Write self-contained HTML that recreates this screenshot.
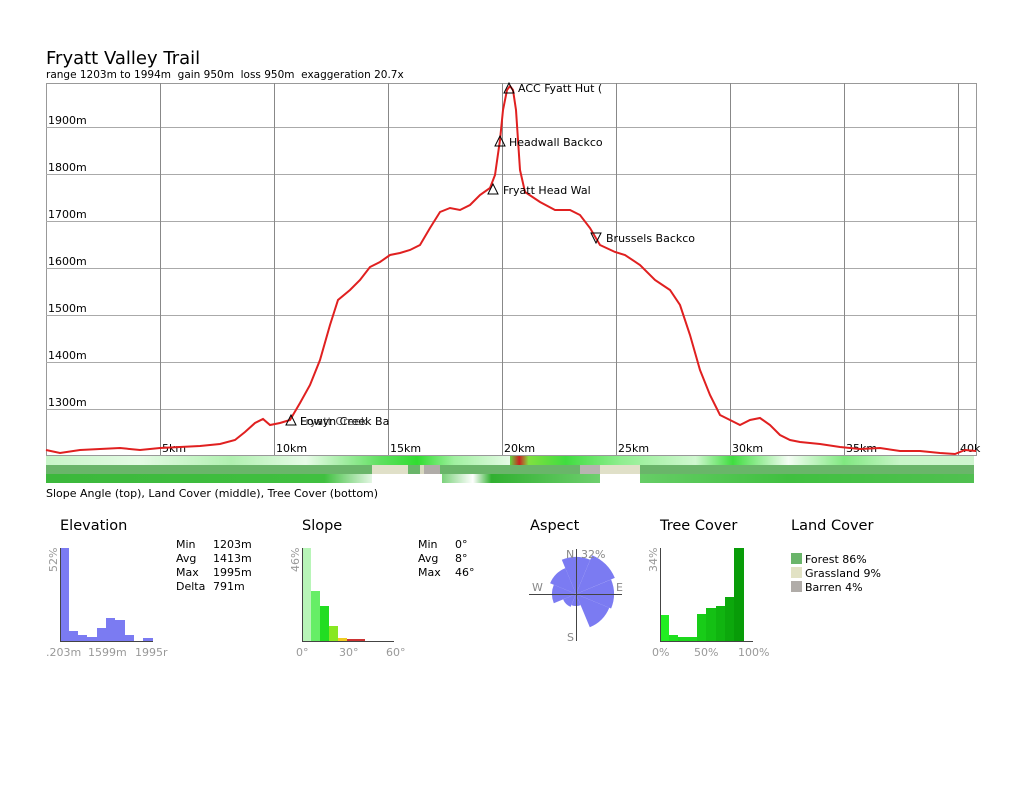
<!DOCTYPE html>
<html><head><meta charset="utf-8"><style>
body{margin:0;background:#fff;width:1024px;height:792px;overflow:hidden;font-family:"DejaVu Sans","Liberation Sans",sans-serif}
svg text{font-family:"DejaVu Sans","Liberation Sans",sans-serif}
</style></head><body>
<svg width="1024" height="792" xmlns="http://www.w3.org/2000/svg">
<defs>
<linearGradient id="slope" x1="0" x2="1">
<stop offset="0" stop-color="#c8f5c8"/><stop offset="0.1" stop-color="#e4fae4"/><stop offset="0.2" stop-color="#b0f0b0"/><stop offset="0.28" stop-color="#e8fbe8"/><stop offset="0.36" stop-color="#60e060"/><stop offset="0.4" stop-color="#30dd30"/><stop offset="0.44" stop-color="#a0f0a0"/><stop offset="0.5" stop-color="#e6fae6"/><stop offset="0.488" stop-color="#40dd30"/><stop offset="0.49" stop-color="#c0e020"/><stop offset="0.493" stop-color="#cc2020"/><stop offset="0.5" stop-color="#60dd40"/><stop offset="0.51" stop-color="#cc2020"/><stop offset="0.52" stop-color="#80e040"/><stop offset="0.56" stop-color="#40dd40"/><stop offset="0.62" stop-color="#90ee90"/><stop offset="0.7" stop-color="#d0f7d0"/><stop offset="0.74" stop-color="#40dd40"/><stop offset="0.8" stop-color="#f4fdf4"/><stop offset="0.86" stop-color="#80e880"/><stop offset="0.92" stop-color="#c8f5c8"/><stop offset="1" stop-color="#d0f5d0"/>
</linearGradient>
<linearGradient id="tree" x1="0" x2="1">
<stop offset="0" stop-color="#3cb83c"/><stop offset="0.3" stop-color="#40c040"/><stop offset="0.36" stop-color="#fff"/><stop offset="0.42" stop-color="#60c860"/><stop offset="0.46" stop-color="#fff"/><stop offset="0.48" stop-color="#30b030"/><stop offset="0.6" stop-color="#70d070"/><stop offset="0.8" stop-color="#40c040"/><stop offset="1" stop-color="#50c050"/>
</linearGradient>
</defs>
<text x="46" y="64" font-size="18">Fryatt Valley Trail</text>
<text x="46" y="78" font-size="10.5">range 1203m to 1994m&#160; gain 950m&#160; loss 950m&#160; exaggeration 20.7x</text>
<rect x="46.5" y="83.5" width="930" height="372" fill="none" stroke="#999"/>
<g stroke="#aaa" stroke-width="1">
<line x1="46" x2="976" y1="127.5" y2="127.5"/><line x1="46" x2="976" y1="174.5" y2="174.5"/><line x1="46" x2="976" y1="221.5" y2="221.5"/><line x1="46" x2="976" y1="268.5" y2="268.5"/><line x1="46" x2="976" y1="315.5" y2="315.5"/><line x1="46" x2="976" y1="362.5" y2="362.5"/><line x1="46" x2="976" y1="409.5" y2="409.5"/>
</g>
<g stroke="#888" stroke-width="1">
<line x1="160.5" x2="160.5" y1="83" y2="455"/><line x1="274.5" x2="274.5" y1="83" y2="455"/><line x1="388.5" x2="388.5" y1="83" y2="455"/><line x1="502.5" x2="502.5" y1="83" y2="455"/><line x1="616.5" x2="616.5" y1="83" y2="455"/><line x1="730.5" x2="730.5" y1="83" y2="455"/><line x1="844.5" x2="844.5" y1="83" y2="455"/><line x1="958.5" x2="958.5" y1="83" y2="455"/>
</g>
<g font-size="11" fill="#000">
<text x="48" y="124">1900m</text><text x="48" y="171">1800m</text><text x="48" y="218">1700m</text><text x="48" y="265">1600m</text><text x="48" y="312">1500m</text><text x="48" y="359">1400m</text><text x="48" y="406">1300m</text>
<text x="162" y="452">5km</text><text x="276" y="452">10km</text><text x="390" y="452">15km</text><text x="504" y="452">20km</text><text x="618" y="452">25km</text><text x="732" y="452">30km</text><text x="846" y="452">35km</text><text x="960" y="452">40k</text>
</g>
<polyline fill="none" stroke="#e02020" stroke-width="2" points="46,450 60,453 80,450 100,449 120,448 140,450 160,448 180,447 200,446 220,444 235,440 245,432 255,423 263,419 270,425 280,423 290,420 300,403 310,385 320,360 330,325 338,300 350,290 360,280 370,267 380,262 390,255 400,253 410,250 420,245 430,228 440,212 450,208 460,210 470,205 480,195 490,188 495,175 500,140 503,110 507,90 510,86 513,90 516,110 520,170 525,192 540,202 555,210 570,210 580,215 590,228 600,245 615,252 625,255 640,265 655,280 670,290 680,305 690,335 700,370 710,395 720,415 730,420 740,425 750,420 760,418 770,425 780,435 790,440 800,442 820,444 840,447 860,449 880,448 900,451 920,451 940,453 955,454 965,450 976,451"/>
<g fill="none" stroke="#000" stroke-width="1">
<path d="M291,415 L286,425 L296,425 Z"/><path d="M509,83 L504,93 L514,93 Z"/><path d="M500,136 L495,146 L505,146 Z"/><path d="M493,184 L488,194 L498,194 Z"/><path d="M596,243 L591,233 L601,233 Z"/>
</g>
<g font-size="11">
<text x="300" y="425">Eowyn Creek Ba</text><text x="300" y="425" opacity="0.7">Fryatt Creek</text><text x="518" y="92">ACC Fyatt Hut (</text><text x="509" y="146">Headwall Backco</text><text x="503" y="194">Fryatt Head Wal</text><text x="606" y="242">Brussels Backco</text>
</g>
<rect x="46" y="456" width="928" height="9" fill="url(#slope)"/>
<rect x="46" y="465" width="928" height="9" fill="#6ab56a"/>
<rect x="372" y="465" width="36" height="9" fill="#e0e0c8"/><rect x="420" y="465" width="20" height="9" fill="#d8d8c0"/><rect x="424" y="465" width="16" height="9" fill="#b0aca8"/><rect x="444" y="465" width="24" height="9" fill="#6ab56a"/><rect x="580" y="465" width="20" height="9" fill="#b8b4b0"/><rect x="600" y="465" width="40" height="9" fill="#e0e0c8"/>
<rect x="46" y="474" width="928" height="9" fill="url(#tree)"/>
<rect x="372" y="474" width="70" height="9" fill="#fff"/><rect x="600" y="474" width="40" height="9" fill="#fff"/>
<text x="46" y="497" font-size="11">Slope Angle (top), Land Cover (middle), Tree Cover (bottom)</text>
<g font-size="14.5"><text x="60" y="530">Elevation</text><text x="302" y="530">Slope</text><text x="530" y="530">Aspect</text><text x="660" y="530">Tree Cover</text><text x="791" y="530">Land Cover</text></g>
<g fill="#7b7bf2">
<rect x="60" y="548" width="9" height="93"/><rect x="69" y="631" width="9" height="10"/><rect x="78" y="635" width="9" height="6"/><rect x="87" y="637" width="10" height="4"/><rect x="97" y="628" width="9" height="13"/><rect x="106" y="618" width="9" height="23"/><rect x="115" y="620" width="10" height="21"/><rect x="125" y="635" width="9" height="6"/><rect x="143" y="638" width="10" height="3"/>
</g>
<path d="M60.5,548 V641.5 H153" fill="none" stroke="#444"/>
<text transform="translate(57,572) rotate(-90)" font-size="11" fill="#999">52%</text>
<g font-size="11" fill="#999"><text x="46" y="656">.203m</text><text x="88" y="656">1599m</text><text x="135" y="656">1995r</text></g>
<g font-size="11"><text x="176" y="548">Min</text><text x="213" y="548">1203m</text><text x="176" y="562">Avg</text><text x="213" y="562">1413m</text><text x="176" y="576">Max</text><text x="213" y="576">1995m</text><text x="176" y="590">Delta</text><text x="213" y="590">791m</text></g>
<rect x="302" y="548" width="9" height="93" fill="#b8f5b8"/><rect x="311" y="591" width="9" height="50" fill="#66ee66"/><rect x="320" y="606" width="9" height="35" fill="#22dd22"/><rect x="329" y="626" width="9" height="15" fill="#88e822"/><rect x="338" y="638" width="9" height="3" fill="#eecc22"/><rect x="347" y="639" width="18" height="2" fill="#cc3333"/>
<path d="M302.5,548 V641.5 H394" fill="none" stroke="#444"/>
<text transform="translate(299,572) rotate(-90)" font-size="11" fill="#999">46%</text>
<g font-size="11" fill="#999"><text x="296" y="656">0°</text><text x="339" y="656">30°</text><text x="386" y="656">60°</text></g>
<g font-size="11"><text x="418" y="548">Min</text><text x="455" y="548">0°</text><text x="418" y="562">Avg</text><text x="455" y="562">8°</text><text x="418" y="576">Max</text><text x="455" y="576">46°</text></g>
<g fill="#7b7bf2">
<path d="M576,594 L561.8,559.8 A37 37 0 0 1 590.2,559.8 Z"/>
<path d="M576,594 L592.1,555.2 A42 42 0 0 1 614.8,577.9 Z"/>
<path d="M576,594 L611.1,579.5 A38 38 0 0 1 611.1,608.5 Z"/>
<path d="M576,594 L609.3,607.8 A36 36 0 0 1 589.8,627.3 Z"/>
<path d="M576,594 L580.6,605.1 A12 12 0 0 1 571.4,605.1 Z"/>
<path d="M576,594 L570.6,606.9 A14 14 0 0 1 563.1,599.4 Z"/>
<path d="M576,594 L553.8,603.2 A24 24 0 0 1 553.8,584.8 Z"/>
<path d="M576,594 L550.1,583.3 A28 28 0 0 1 565.3,568.1 Z"/>
</g>
<g stroke="#444"><line x1="529" y1="594.5" x2="622" y2="594.5"/><line x1="576.5" y1="549" x2="576.5" y2="641"/></g>
<g font-size="11" fill="#888"><text x="566" y="558">N</text><text x="581" y="558">32%</text><text x="532" y="591">W</text><text x="616" y="591">E</text><text x="567" y="641">S</text></g>
<rect x="660" y="615" width="9" height="26" fill="#22ee22"/><rect x="669" y="635" width="9" height="6" fill="#1ee01e"/><rect x="678" y="637" width="19" height="4" fill="#1cd81c"/><rect x="697" y="614" width="9" height="27" fill="#18cc18"/><rect x="706" y="608" width="10" height="33" fill="#14c014"/><rect x="716" y="606" width="9" height="35" fill="#10b410"/><rect x="725" y="597" width="9" height="44" fill="#0ca80c"/><rect x="734" y="548" width="10" height="93" fill="#089c08"/>
<path d="M660.5,548 V641.5 H753" fill="none" stroke="#444"/>
<text transform="translate(657,572) rotate(-90)" font-size="11" fill="#999">34%</text>
<g font-size="11" fill="#999"><text x="652" y="656">0%</text><text x="694" y="656">50%</text><text x="738" y="656">100%</text></g>
<rect x="791" y="553" width="11" height="11" fill="#6ab56a"/><rect x="791" y="567" width="11" height="11" fill="#e2e2c4"/><rect x="791" y="581" width="11" height="11" fill="#b0aca8"/>
<g font-size="11"><text x="805" y="563">Forest 86%</text><text x="805" y="577">Grassland 9%</text><text x="805" y="591">Barren 4%</text></g>
</svg>
</body></html>
